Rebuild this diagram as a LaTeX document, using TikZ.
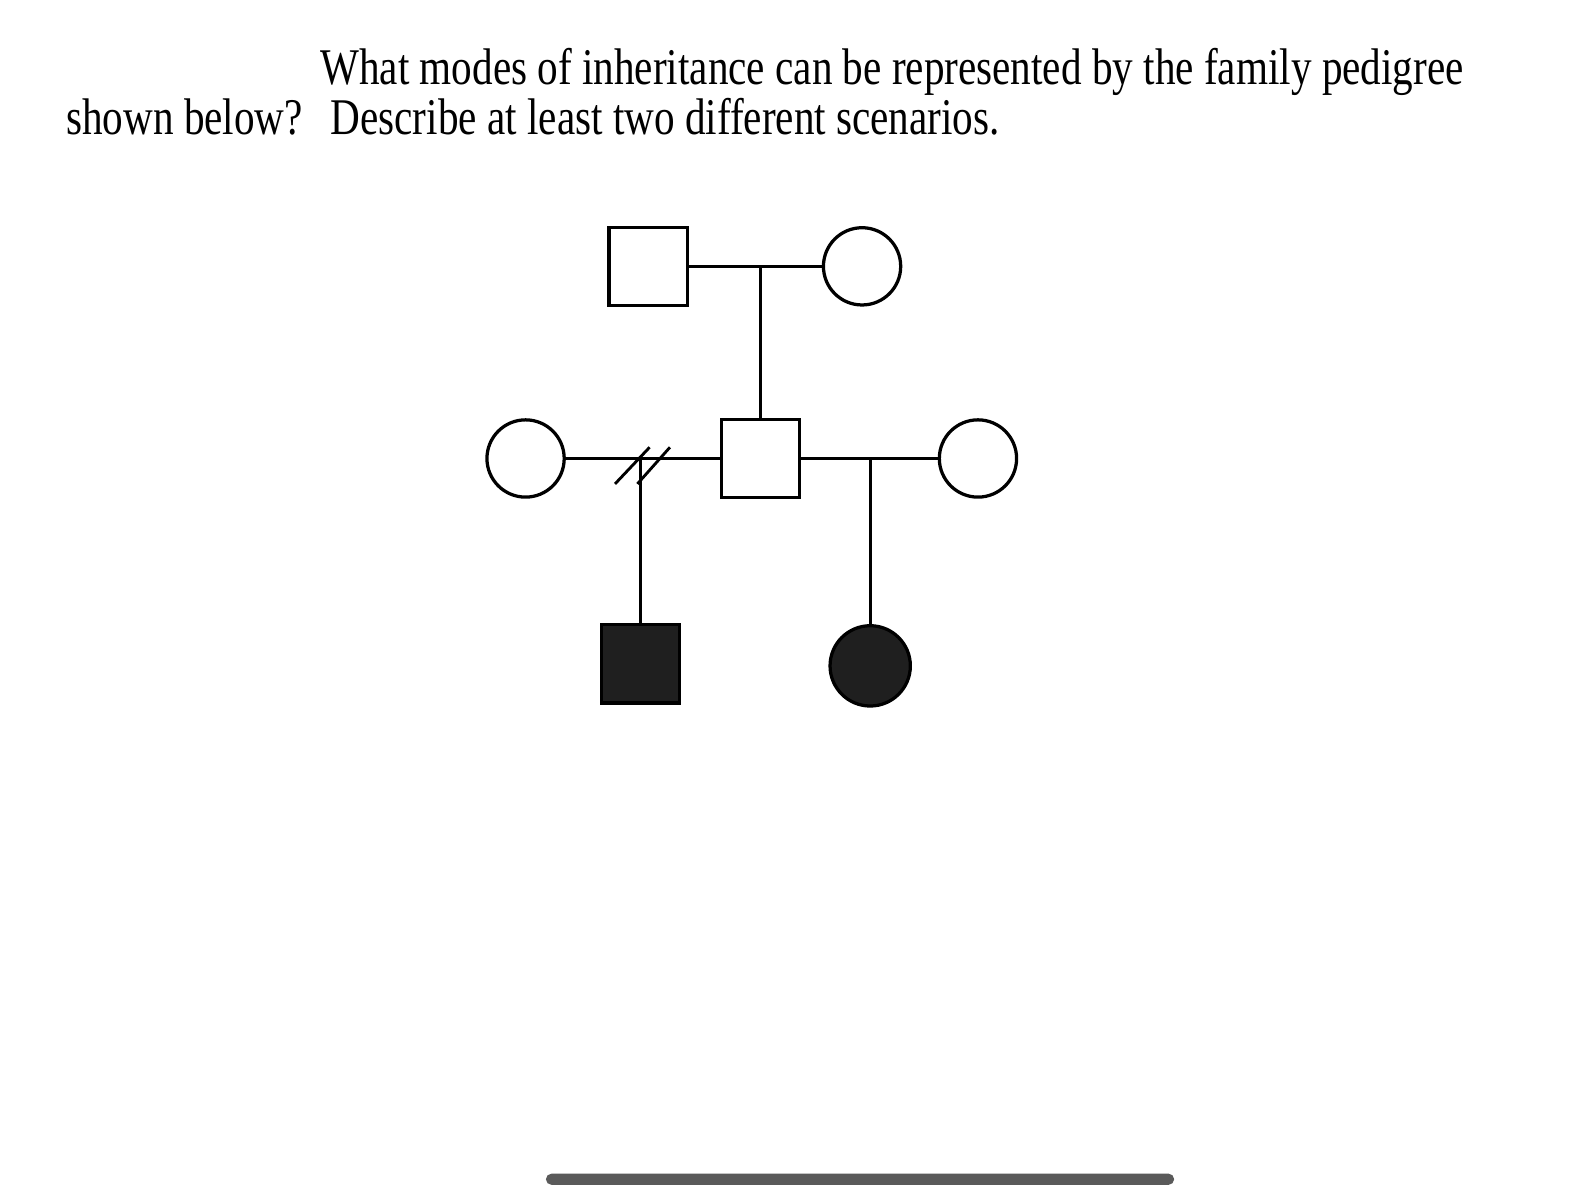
\documentclass[tikz,border=0pt]{standalone}
\usepackage{fontspec}
\setmainfont{Liberation Serif}
\usetikzlibrary{positioning}
\definecolor{barGray}{RGB}{90,90,90}
\tikzset{
  male/.style={draw, rectangle, line width=3.2pt, minimum size=77pt, inner sep=0pt},
  female/.style={draw, circle, line width=3.2pt, minimum size=76pt, inner sep=0pt},
  affected/.style={fill=black!88},
  link/.style={line width=2.8pt},
  question/.style={anchor=base west, inner sep=0pt, font=\fontsize{40.5}{48}\selectfont},
}
\begin{document}
\begin{tikzpicture}[x=1pt, y=-1pt]
  \useasboundingbox[fill=white] (0,0) rectangle (1568,1179.5);

  % question text
  \node[question] (q1) at (315,83)
    {\scalebox{1}[1.25]{What modes of inheritance can be represented by the family pedigree}};
  \node[question] (q2) at (65,132)
    {\scalebox{1}[1.25]{shown below?\ \ \hspace{7pt}Describe at least two different scenarios.}};

  % generation I
  \node[male] (gpa) at (637.5,262) {};
  \node[female] (gma) at (848,262) {};

  % generation II
  \node[male] (dad) at (748,451) {};
  \node[female] (wife1) at (517,451) {};
  \node[female] (wife2) at (962,451) {};

  % generation III
  \node[male, affected] (son) at (630,653) {};
  \node[female, affected, minimum size=79pt] (dau) at (856,655) {};

  \coordinate (m1) at (dad.north |- gpa.east);
  \coordinate (m2) at (son.north |- dad.west);
  \coordinate (m3) at (dau.north |- dad.east);

  \draw[link] (gpa.east) -- (m1) -- (gma.west);
  \draw[link] (m1) -- (dad.north);
  \draw[link] (wife1.east) -- (m2) -- (dad.west);
  \draw[link] (m2) -- (son.north);
  \draw[link] (dad.east) -- (m3) -- (wife2.west);
  \draw[link] (m3) -- (dau.north);

  % divorce marks
  \draw[link] ([shift={(-25,25)}]m2) -- ([shift={(9,-11)}]m2);
  \draw[link] ([shift={(-3,25)}]m2) -- ([shift={(29,-11)}]m2);

  % home bar
  \node[fill=barGray, rounded corners=5.5pt, minimum width=618pt, minimum height=11pt, inner sep=0pt] (bar) at (846,1160) {};
\end{tikzpicture}
\end{document}
